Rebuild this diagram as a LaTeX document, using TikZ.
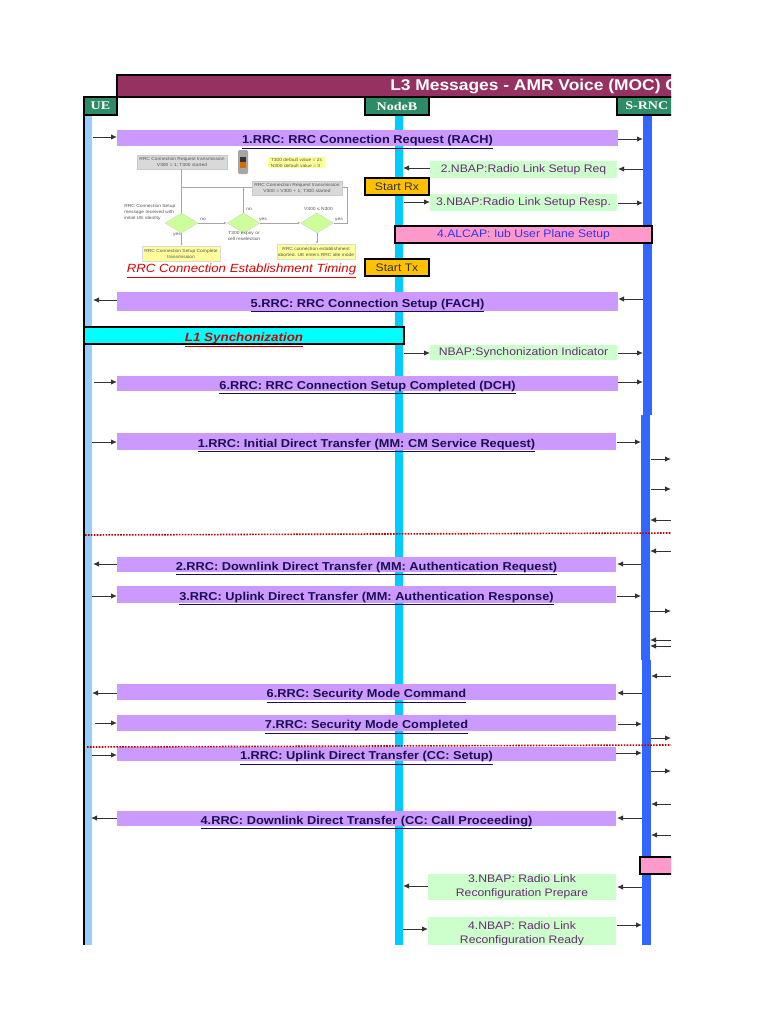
\documentclass[tikz,border=0pt]{standalone}
\usepackage{fontspec}
\setmainfont[FakeStretch=1.115]{Liberation Sans}
\newfontfamily\hdrfont[FakeStretch=1.2]{Liberation Serif}
\usetikzlibrary{arrows.meta,shapes.geometric}
\definecolor{titlebg}{HTML}{953262}
\definecolor{hdrbg}{HTML}{2E8B68}
\definecolor{uelife}{HTML}{99CCFF}
\definecolor{nblife}{HTML}{00CCFF}
\definecolor{rnclife}{HTML}{3366FF}
\definecolor{rrcbg}{HTML}{CC99FF}
\definecolor{nbapbg}{HTML}{CCFFCC}
\definecolor{nbaptx}{HTML}{6A2A78}
\definecolor{startbg}{HTML}{FFC000}
\definecolor{pinkbg}{HTML}{FF99CC}
\definecolor{l1bg}{HTML}{00FFFF}
\definecolor{alcaptx}{HTML}{3333EE}
\definecolor{rrctx}{HTML}{1A1050}
\definecolor{insetgrey}{HTML}{D9D9D9}
\definecolor{insetyel}{HTML}{FFFF99}
\definecolor{insetgreen}{HTML}{CCFF99}
\definecolor{insetline}{HTML}{A6A6A6}
\definecolor{insettx}{HTML}{555555}
\newcommand\bx[7]{%
  \pgfmathsetmacro\bxw{(#4-#2)*0.75}\pgfmathsetmacro\bxh{(#5-#3)*0.75}%
  \node[#6,minimum width=\bxw pt,minimum height=\bxh pt,inner sep=0pt,outer sep=0pt] (#1) at ({(#2+#4)/2},{(#3+#5)/2}) {#7};}
% link between a named free end on a lifeline and a box side
\newcommand\lnk[5]{%
  \coordinate (#2) at (#3,#4);
  \draw[#1] (#2) -- (#5 |- #2);}
% free connector running off the clipped right edge
\newcommand\off[4]{%
  \coordinate (#1a) at (#3,#4); \coordinate (#1b) at (671,#4);
  \draw[#2] (#1a) -- (#1b);}
\tikzset{
  frame/.style={draw=black,line width=1.5pt},
  hdr/.style={frame,fill=hdrbg,text=white,font=\hdrfont\bfseries\fontsize{8.8}{10}\selectfont},
  rrc/.style={fill=rrcbg},
  nbap/.style={fill=nbapbg,text=nbaptx,align=center,font=\fontsize{8.2}{10.5}\selectfont},
  startbox/.style={frame,fill=startbg,text=black!80,font=\fontsize{8.2}{10}\selectfont},
  sig/.style={draw=black!80,line width=.7pt,-{Latex[length=4.5pt,width=4pt]}},
  gis/.style={draw=black!80,line width=.7pt,{Latex[length=4.5pt,width=4pt]}-},
  redline/.style={draw=red!75!black,line width=1.2pt,densely dotted},
  igrey/.style={fill=insetgrey,draw=insetline!60,line width=.2pt,text=insettx,align=center,font=\fontsize{3.3}{4.4}\selectfont},
  iyel/.style={fill=insetyel,draw=insetline!40,line width=.2pt,text=insettx,align=center,font=\fontsize{3.3}{4.4}\selectfont},
  idia/.style={fill=insetgreen,draw=insetline!60,line width=.2pt},
  itx/.style={text=insettx,inner sep=0pt,align=left,font=\fontsize{3.3}{4.4}\selectfont},
  iln/.style={draw=insetline,line width=.45pt},
  ilna/.style={iln,-{Latex[length=2pt,width=1.6pt]}},
}
\begin{document}
\begin{tikzpicture}[x=0.75pt,y=-0.75pt]
\useasboundingbox (0,0) rectangle (768,1024);
\begin{scope}
\clip (0,0) rectangle (671,944);
% lifelines
\bx{ueband}{85}{115}{92}{950}{fill=uelife}{}
\bx{nbband}{395}{115}{403}{950}{fill=nblife}{}
\bx{rncA}{643}{115}{652}{415}{fill=rnclife}{}
\bx{rncB}{641}{415}{650}{660}{fill=rnclife}{}
\bx{rncC}{642}{660}{651}{950}{fill=rnclife}{}
\coordinate (uetop) at (84,115); \coordinate (uebot) at (84,950);
\draw[black,line width=1.5pt] (uetop) -- (uebot);
% title and headers
\bx{title}{117}{75}{700}{97}{frame,fill=titlebg}{}
\node[anchor=west,inner sep=0pt,text=white,font=\bfseries\fontsize{11.7}{12}\selectfont] (titletext) at (390,87) {L3 Messages - AMR Voice (MOC) C};
\bx{hue}{84}{97}{117}{115}{hdr}{UE}
\bx{hnb}{365}{97}{429}{115}{hdr}{NodeB}
\bx{hrnc}{617}{97}{700}{115}{hdr}{}
\node[anchor=west,inner sep=0pt,text=white,font=\hdrfont\bfseries\fontsize{8.8}{10}\selectfont] (hrnctext) at (625,106) {S-RNC};
% RRC messages
\newcommand\rrcm[5]{%
  \bx{#1}{117}{#2}{#3}{#4}{rrc}{}
  \node[inner sep=0pt,text=rrctx,font=\bfseries\fontsize{8.6}{10}\selectfont] (#1t) at ([yshift=-3pt]#1) {\underline{#5}};}
\rrcm{ma}{130}{618}{146}{1.RRC: RRC Connection Request (RACH)}
\rrcm{mb}{292}{618}{311}{5.RRC: RRC Connection Setup (FACH)}
\rrcm{mc}{376}{618}{391}{6.RRC: RRC Connection Setup Completed (DCH)}
\rrcm{md}{433}{616}{450}{1.RRC: Initial Direct Transfer (MM: CM Service Request)}
\rrcm{me}{557}{616}{572}{2.RRC: Downlink Direct Transfer (MM: Authentication Request)}
\rrcm{mf}{586}{616}{603}{3.RRC: Uplink Direct Transfer (MM: Authentication Response)}
\rrcm{mg}{684}{616}{700}{6.RRC: Security Mode Command}
\rrcm{mh}{715}{616}{731}{7.RRC: Security Mode Completed}
\rrcm{mi}{747}{616}{761}{1.RRC: Uplink Direct Transfer (CC: Setup)}
\rrcm{mj}{811}{616}{826}{4.RRC: Downlink Direct Transfer (CC: Call Proceeding)}
% NBAP messages
\bx{na}{430}{161}{617}{178}{nbap}{2.NBAP:Radio Link Setup Req}
\bx{nb}{430}{194}{617}{211}{nbap}{3.NBAP:Radio Link Setup Resp.}
\bx{nc}{430}{345}{617}{360}{nbap}{NBAP:Synchonization Indicator}
\bx{nd}{428}{874}{616}{900}{nbap}{3.NBAP: Radio Link\\Reconfiguration Prepare}
\bx{ne}{428}{917}{616}{960}{nbap}{}
\node[inner sep=0pt,text=nbaptx,align=center,font=\fontsize{8.2}{10.5}\selectfont] (netext) at (522,934) {4.NBAP: Radio Link\\Reconfiguration Ready};
% Timers and bars
\bx{srx}{365}{178}{429}{195}{startbox}{Start Rx}
\bx{stx}{365}{259}{429}{276}{startbox}{Start Tx}
\bx{alcap}{395}{226}{652}{243}{frame,fill=pinkbg,text=alcaptx,font=\fontsize{8.2}{10}\selectfont}{4.ALCAP: Iub User Plane Setup}
\bx{lone}{84}{327}{404}{344}{frame,fill=l1bg}{}
\node[inner sep=0pt,text=red!80!black,font=\bfseries\itshape\fontsize{9}{10}\selectfont] (lonet) at (244,340) {\underline{L1 Synchonization}};
\bx{rpink}{640}{857}{700}{874}{frame,fill=pinkbg}{}
% connectors to boxes
\lnk{sig}{a1}{93}{137}{ma.west}
\lnk{sig}{a2}{618}{139}{rncA.west}
\lnk{gis}{a3}{403}{168}{na.west}
\lnk{gis}{a4}{618}{169}{rncA.west}
\lnk{sig}{a5}{404}{202}{nb.west}
\lnk{sig}{a6}{618}{203}{rncA.west}
\lnk{gis}{a7}{93}{300}{mb.west}
\lnk{gis}{a8}{618}{299}{rncA.west}
\lnk{sig}{a9}{404}{353}{nc.west}
\lnk{sig}{a10}{618}{353}{rncA.west}
\lnk{sig}{a11}{94}{382}{mc.west}
\lnk{sig}{a12}{618}{382}{rncA.west}
\lnk{sig}{a13}{92}{442}{md.west}
\lnk{sig}{a14}{617}{442}{rncB.west}
\lnk{gis}{a15}{93}{564}{me.west}
\lnk{gis}{a16}{617}{564}{rncB.west}
\lnk{sig}{a17}{92}{596}{mf.west}
\lnk{sig}{a18}{617}{596}{rncB.west}
\lnk{gis}{a19}{92}{693}{mg.west}
\lnk{gis}{a20}{617}{693}{rncC.west}
\lnk{sig}{a21}{95}{723}{mh.west}
\lnk{sig}{a22}{618}{724}{rncC.west}
\lnk{sig}{a23}{92}{755}{mi.west}
\lnk{sig}{a24}{616}{753}{rncC.west}
\lnk{gis}{a25}{91}{818}{mj.west}
\lnk{gis}{a26}{617}{818}{rncC.west}
\lnk{gis}{a27}{403}{886}{nd.west}
\lnk{gis}{a28}{617}{887}{rncC.west}
\lnk{sig}{a29}{403}{929}{ne.west}
\lnk{sig}{a30}{617}{925}{rncC.west}
% free connectors at the right edge
\off{b1}{sig}{651}{459}
\off{b2}{sig}{651}{489}
\off{b3}{gis}{650}{520}
\off{b4}{gis}{650}{551}
\off{b5}{sig}{650}{611}
\off{b6}{gis}{650}{640}
\off{b7}{gis}{650}{646}
\off{b8}{gis}{651}{676}
\off{b9}{sig}{651}{738}
\off{b10}{sig}{651}{771}
\off{b11}{gis}{651}{804}
\off{b12}{gis}{651}{835}
% phase separators
\coordinate (ra) at (85,535); \coordinate (rb) at (671,533);
\draw[redline] (ra) -- (rb);
\coordinate (rc) at (87,747); \coordinate (rd) at (671,745);
\draw[redline] (rc) -- (rd);
% inset flow chart
\bx{ga}{137}{155}{227}{169}{igrey}{RRC Connection Request transmission\\V300 = 1; T300 started}
\bx{gb}{252}{181}{342}{195}{igrey}{RRC Connection Request transmission\\V300 = V300 + 1; T300 started}
\bx{ynote}{268}{157}{325}{168}{iyel,draw=none,align=left}{T300 default value = 2s\\N300 default value = 3}
\bx{ya}{142}{246}{220}{261}{iyel}{RRC Connection Setup Complete\\transmission}
\bx{yb}{277}{244}{355}{259}{iyel}{RRC connection establishment\\aborted. UE enters RRC idle mode}
\node[diamond,idia,minimum width=24.75pt,minimum height=15pt,inner sep=0pt] (da) at (181.5,223) {};
\node[diamond,idia,minimum width=24.75pt,minimum height=15pt,inner sep=0pt] (db) at (243.5,223) {};
\node[diamond,idia,minimum width=24.75pt,minimum height=15pt,inner sep=0pt] (dc) at (317,223) {};
\coordinate (join) at (181.5,187.5);
\coordinate (corner1) at (347,223); \coordinate (corner2) at (347,187.5);
\draw[iln] (da |- ga.south) -- (da);
\draw[ilna] (gb.west |- join) -- (join);
\draw[ilna] (db) -- (db |- join);
\draw[ilna] (da) -- (db);
\draw[ilna] (db) -- (dc);
\draw[ilna] (dc) -- (corner1) -- (corner2) -- (gb.east |- corner2);
\draw[ilna] (da) -- (da |- ya.north);
\draw[ilna] (dc) -- (dc |- yb.north);
\node[itx,anchor=north west] (la) at (124,204.5) {RRC Connection Setup\\message received with\\initial UE identity};
\node[itx,align=center] (lb) at (244,236) {T300 expiry or\\cell reselection};
\node[itx] (lc) at (318.5,209) {V300 ≤ N300};
\node[itx] (ld) at (249,209) {no};
\node[itx] (le) at (203,219.5) {no};
\node[itx] (lf) at (263,219.5) {yes};
\node[itx] (lg) at (339,219.5) {yes};
\node[itx] (lh) at (177,234.5) {yes};
\node[inner sep=0pt,text=red!85!black,font=\itshape\fontsize{8.9}{10}\selectfont] (itimer) at (241.5,271) {\underline{RRC Connection Establishment Timing}};
% phone icon
\bx{phone}{238}{150}{248}{174}{fill=black!35,rounded corners=1pt}{}
\bx{phonescreen}{240}{157}{246}{162}{fill=black!80}{}
\bx{phonepad}{240}{162}{246}{168}{fill=orange!85!black}{}
\end{scope}
\end{tikzpicture}
\end{document}
